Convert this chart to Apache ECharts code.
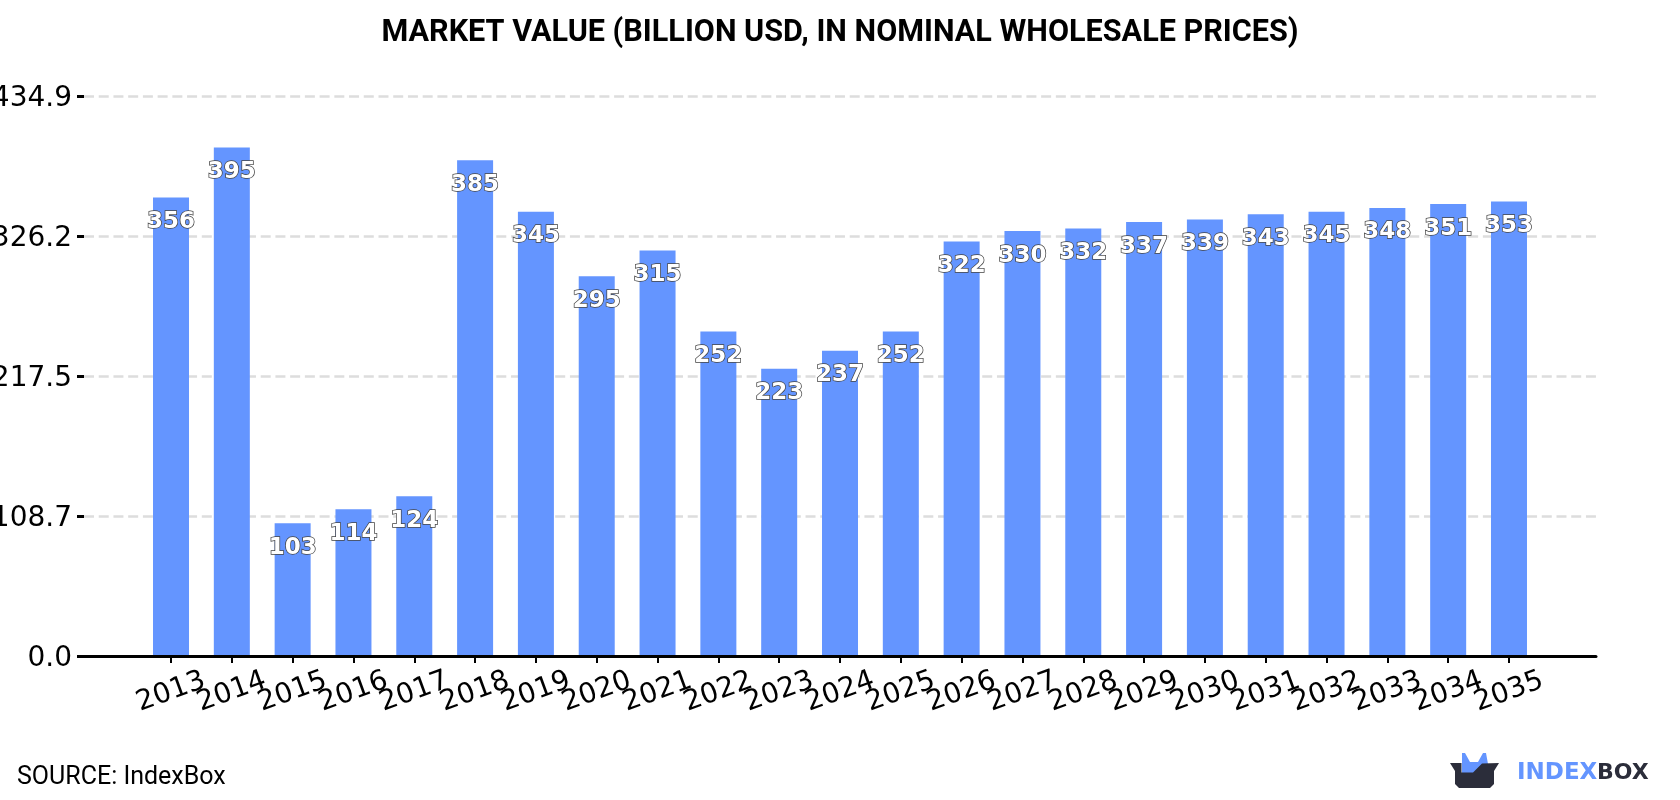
<!DOCTYPE html>
<html>
<head>
<meta charset="utf-8">
<style>html,body{margin:0;padding:0;background:#fff}#chart{width:1680px;height:800px}</style>
<script src="https://cdn.jsdelivr.net/npm/echarts@6/dist/echarts.min.js"></script>
</head>
<body>
<div id="chart"></div>
<script>
// Market value by year, billion USD
const years = ['2013','2014','2015','2016','2017','2018','2019','2020','2021','2022','2023','2024','2025','2026','2027','2028','2029','2030','2031','2032','2033','2034','2035'];
const values = [356,395,103,114,124,385,345,295,315,252,223,237,252,322,330,332,337,339,343,345,348,351,353];
const yTickLabels = ['0.0','108.7','217.5','326.2','434.9'];
const yMax = 434.9;
const titleText = 'MARKET VALUE (BILLION USD, IN NOMINAL WHOLESALE PRICES)';
const sourceText = 'SOURCE: IndexBox';

const BLUE = '#6495ff';
const DARK = '#2b2d3a';

// The frame (grid 0) runs wider than the bar area (grid 1) so the axis line
// and the dashed rules overshoot the first and last bars.
const frame = {top: 96, height: 560, outerBoundsMode: 'none', containLabel: false};

const chart = echarts.init(document.getElementById('chart'), null, {renderer: 'canvas'});
chart.setOption({
  animation: false,
  backgroundColor: '#fff',
  title: {
    text: titleText, left: 'center', top: 13,
    textStyle: {fontFamily: 'Roboto', fontWeight: 'bold', fontSize: 30.6, color: '#000'}
  },
  grid: [
    {...frame, left: 84, width: 1512},
    {...frame, left: 140.6, width: 1398.8}
  ],
  xAxis: [
    {
      gridIndex: 0, type: 'value', min: 0, max: 1, z: 5,
      splitLine: {show: false},
      axisLabel: {show: false},
      axisTick: {show: false},
      axisLine: {show: true, lineStyle: {color: '#000', width: 3}}
    },
    {
      gridIndex: 1, type: 'category', data: years, z: 5,
      axisLine: {show: false},
      axisTick: {show: true, alignWithLabel: true, length: 7, lineStyle: {color: '#000', width: 2}},
      axisLabel: {
        interval: 0, rotate: 20, margin: 36, align: 'center', verticalAlign: 'middle',
        fontFamily: 'DejaVu Sans', fontSize: 28, color: '#000'
      }
    }
  ],
  yAxis: [
    {
      gridIndex: 0, type: 'value', min: 0, max: yMax, interval: yMax / 4,
      axisLine: {show: false},
      axisTick: {show: true, length: 7, lineStyle: {color: '#000', width: 3}},
      axisLabel: {
        margin: 12,
        formatter: (v, i) => '{tick|' + yTickLabels[i] + '}',
        rich: {tick: {padding: [5, 0, 0, 0], fontFamily: 'DejaVu Sans', fontSize: 28, color: '#000'}}
      },
      splitLine: {show: true, lineStyle: {color: '#dddddd', width: 2.5, type: [10, 4.725]}}
    },
    {
      gridIndex: 1, type: 'value', min: 0, max: yMax, show: false
    }
  ],
  series: [{
    type: 'bar',
    xAxisIndex: 1,
    yAxisIndex: 1,
    barWidth: 36,
    itemStyle: {color: BLUE},
    data: values,
    label: {
      show: true,
      position: 'insideTop',
      distance: 13,
      fontFamily: 'DejaVu Sans',
      fontWeight: 'bold',
      fontSize: 23,
      color: '#fff',
      textBorderColor: '#444',
      textBorderWidth: 1.5
    }
  }],
  graphic: [
    {type: 'text', left: 17, top: 765, style: {text: sourceText, fontFamily: 'Roboto', fontSize: 25, fill: '#000'}},
    // Brand mark: blue ears rising out of a dark open box
    {type: 'polygon', silent: true, shape: {points: [[1462,773],[1462,753],[1465,753],[1470,762],[1478,762],[1483,753],[1486,753],[1488,764],[1474,774]]}, style: {fill: BLUE}},
    {type: 'polygon', silent: true, shape: {points: [[1450,763],[1461.5,763],[1461.5,772.5],[1473,772.5],[1482,763.5],[1499,763],[1494,771],[1494,784],[1490,788],[1459,788],[1455,784],[1455,771]]}, style: {fill: DARK}},
    {type: 'text', left: 1517, top: 762, style: {text: 'INDEX', fontFamily: 'DejaVu Sans', fontWeight: 'bold', fontSize: 23, fill: BLUE}},
    {type: 'text', left: 1597, top: 762, style: {text: 'BOX', fontFamily: 'DejaVu Sans', fontWeight: 'bold', fontSize: 22, fill: DARK}}
  ]
});
</script>
</body>
</html>
